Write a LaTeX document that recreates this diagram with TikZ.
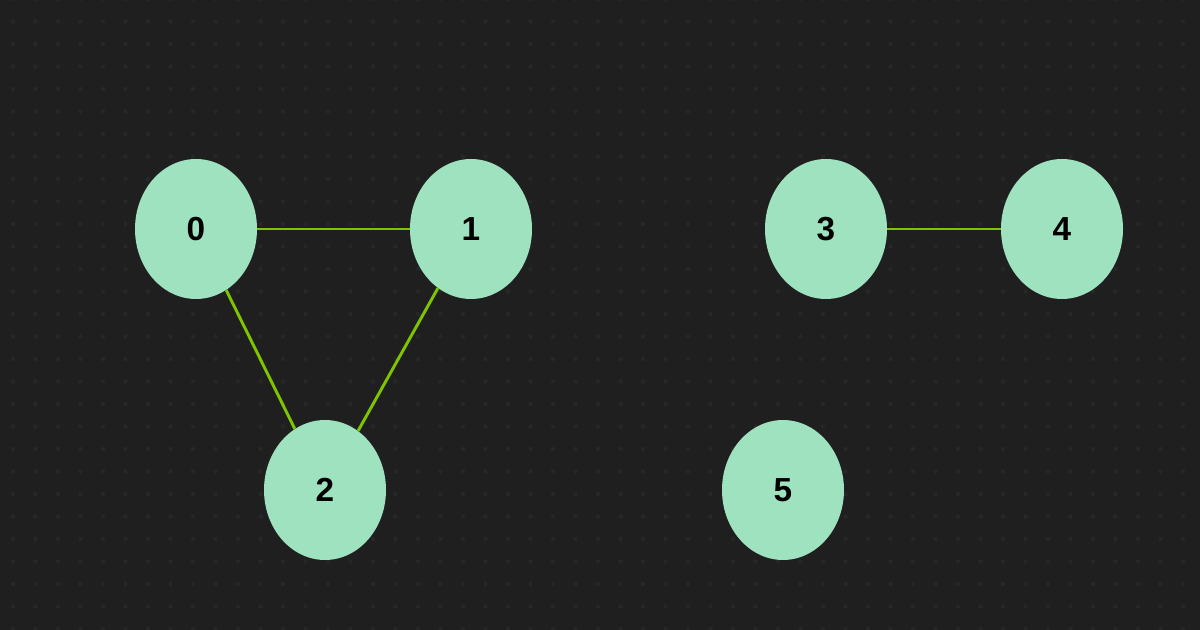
\documentclass[tikz,border=0pt]{standalone}
\usetikzlibrary{shapes.geometric}
\usepackage{fontspec}
\setmainfont{Liberation Sans}
\definecolor{bg}{HTML}{1F1F1F}
\definecolor{dotc}{HTML}{272727}
\definecolor{nodefill}{HTML}{9FE2BF}
\definecolor{edgec}{HTML}{7FC400}
\begin{document}
\begin{tikzpicture}[x=0.75pt,y=-0.75pt,
  vert/.style={ellipse,fill=nodefill,minimum width=122*0.75pt,minimum height=140*0.75pt,inner sep=0pt,font=\bfseries\fontsize{25}{25}\selectfont,text=black},
  edge/.style={draw=edgec,line width=2.2pt}]
\fill[bg] (0,0) rectangle (1200,630);
\useasboundingbox (0,0) rectangle (1200,630);
\foreach \i in {0,...,53}{\foreach \j in {0,...,28}{
  \fill[dotc] (13+22.5*\i,-1+22.5*\j) circle[radius=2.2];}}
\node[vert] (n0) at (196,229) {0};
\node[vert] (n1) at (471,229) {1};
\node[vert] (n2) at (325,490) {2};
\node[vert] (n3) at (826,229) {3};
\node[vert] (n4) at (1062,229) {4};
\node[vert] (n5) at (783,490) {5};
\draw[edge] (n0) -- (n1);
\draw[edge] (n0) -- (n2);
\draw[edge] (n1) -- (n2);
\draw[edge] (n3) -- (n4);
\end{tikzpicture}
\end{document}
